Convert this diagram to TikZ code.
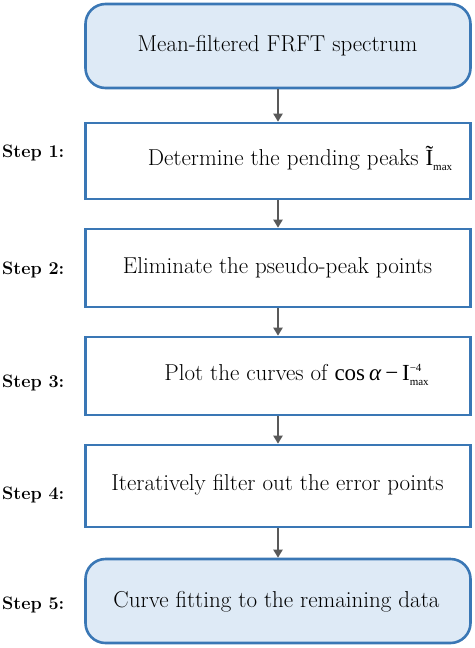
\documentclass[tikz,border=0pt]{standalone}
\usepackage{fontspec}
\newfontfamily\eqfont{Liberation Serif}
\newcommand\eqsub[1]{\raisebox{-5pt}{\fontsize{11}{11}\selectfont #1}}
\newcommand\eqsupsub[2]{\rlap{\raisebox{9pt}{\fontsize{11}{11}\selectfont #1}}\raisebox{-5pt}{\fontsize{11}{11}\selectfont #2}}
\usetikzlibrary{arrows.meta}
\definecolor{boxblue}{HTML}{3A77B5}
\definecolor{boxfill}{HTML}{DEEAF6}
\definecolor{arrowgray}{HTML}{595959}
\begin{document}
\begin{tikzpicture}[x=1pt,y=1pt,
  stepbox/.style={draw=boxblue,line width=2.6pt,minimum width=385pt,inner sep=0pt,fill=white},
  roundbox/.style={stepbox,rounded corners=20pt,fill=boxfill},
  boxtext/.style={font=\fontsize{23}{26}\selectfont,inner sep=0pt},
  steplabel/.style={font=\fontsize{18}{21}\selectfont\bfseries,anchor=west,inner sep=0pt},
  flow/.style={draw=arrowgray,line width=2pt,-{Triangle[width=9pt,length=8pt]}}]
\useasboundingbox (0,0) rectangle (474,-648);
\node[roundbox,minimum height=84pt] (b0) at (278,-46) {};
\node[stepbox,minimum height=76pt] (b1) at (278,-161) {};
\node[stepbox,minimum height=78pt] (b2) at (278,-268) {};
\node[stepbox,minimum height=78pt] (b3) at (278,-376) {};
\node[stepbox,minimum height=82pt] (b4) at (278,-486) {};
\node[roundbox,minimum height=84pt] (b5) at (278,-601) {};
\node[boxtext] (t0) at (277.5,-46) {Mean-filtered FRFT spectrum};
\node[boxtext] (t1) at (300,-158) {Determine the pending peaks {\eqfont Ĩ\eqsub{max}}};
\node[boxtext] (t2) at (277.5,-268) {Eliminate the pseudo-peak points};
\node[boxtext] (t3) at (296.5,-375) {Plot the curves of {\eqfont cos\,\textit{α}\,−\,I\eqsupsub{−4}{max}}};
\node[boxtext] (t4) at (277.5,-485) {Iteratively filter out the error points};
\node[boxtext] (t5) at (276.5,-602) {Curve fitting to the remaining data};
\node[steplabel] (s1) at (2,-153) {Step 1:};
\node[steplabel] (s2) at (2,-270) {Step 2:};
\node[steplabel] (s3) at (2,-383) {Step 3:};
\node[steplabel] (s4) at (2,-495) {Step 4:};
\node[steplabel] (s5) at (2,-605) {Step 5:};
\draw[flow] (b0.south) -- (b1.north);
\draw[flow] (b1.south) -- (b2.north);
\draw[flow] (b2.south) -- (b3.north);
\draw[flow] (b3.south) -- (b4.north);
\draw[flow] (b4.south) -- (b5.north);
\end{tikzpicture}
\end{document}
